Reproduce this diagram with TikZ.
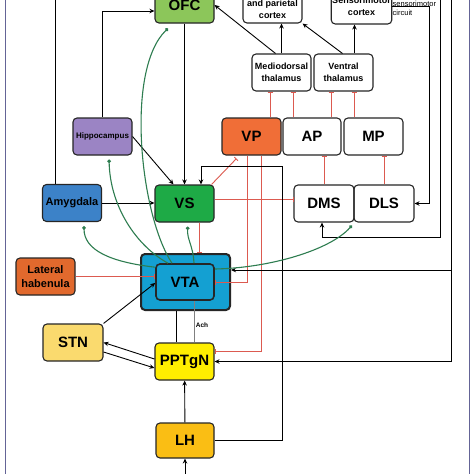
\documentclass[tikz,border=0pt]{standalone}
\usepackage{fontspec}
\setmainfont{Liberation Sans}
\usetikzlibrary{arrows.meta}

\definecolor{ofcgreen}{RGB}{140,198,90}
\definecolor{hipviolet}{RGB}{155,132,196}
\definecolor{vporange}{RGB}{240,110,55}
\definecolor{amyblue}{RGB}{60,130,200}
\definecolor{vsgreen}{RGB}{30,170,70}
\definecolor{lhborange}{RGB}{225,105,45}
\definecolor{vtablue}{RGB}{20,160,210}
\definecolor{stnyellow}{RGB}{250,218,110}
\definecolor{pptyellow}{RGB}{255,238,0}
\definecolor{lhgold}{RGB}{250,190,20}
\definecolor{inhred}{RGB}{220,90,80}
\definecolor{dagreen}{RGB}{46,125,80}
\definecolor{framecol}{RGB}{100,100,150}

\begin{document}
\begin{tikzpicture}[x=1pt,y=-1pt,
    box/.style={draw=black!85,line width=1.1pt,rounded corners=4pt,minimum width=59pt,minimum height=37pt,
      inner sep=1pt,align=center,font=\bfseries\fontsize{15}{16}\selectfont},
    small/.style={font=\bfseries\fontsize{9}{12}\selectfont},
    arr/.style={line width=0.9pt,-{Stealth[length=5pt,width=4.5pt]}},
    inh/.style={draw=inhred,line width=0.9pt,-{Bar[width=5pt]}},
    da/.style={draw=dagreen,line width=1.1pt,-{Circle[length=3.5pt]}}]
  \useasboundingbox (0,0) rectangle (474,474);
  \clip (0,0) rectangle (474,474);
  \fill[white] (0,0) rectangle (474,474);

  \node[box,fill=ofcgreen,minimum height=36pt] (ofc) at (184.5,5) {OFC};
  \node[box,small,minimum height=28pt] (ppc) at (272.5,9) {and parietal\\cortex};
  \node[box,small,minimum height=36pt] (smc) at (361.5,6) {Sensorimotor\\cortex};
  \node[font=\fontsize{7.5}{9}\selectfont,align=left,anchor=south west,inner sep=0.5pt] (smlabel) at (392,16) {sensorimotor\\circuit};
  \node[box,small] (md) at (281.5,72.5) {Mediodorsal\\thalamus};
  \node[box,small] (vt) at (343.5,72.5) {Ventral\\thalamus};
  \node[box,fill=hipviolet,font=\bfseries\fontsize{8}{9}\selectfont] (hip) at (102.5,136.5) {Hippocampus};
  \node[box,fill=vporange] (vp) at (251.5,136.5) {VP};
  \node[box,minimum width=58pt] (ap) at (312,136.5) {AP};
  \node[box] (mp) at (373.5,136.5) {MP};
  \node[box,fill=amyblue,font=\bfseries\fontsize{11}{12}\selectfont] (amy) at (72,203) {Amygdala};
  \node[box,fill=vsgreen] (vs) at (184.5,203.5) {VS};
  \node[box,minimum width=60pt] (dms) at (324,203.5) {DMS};
  \node[box,minimum width=60pt] (dls) at (384,203.5) {DLS};
  \node[box,fill=lhborange,font=\bfseries\fontsize{11}{14}\selectfont] (lhb) at (45.5,276.5) {Lateral\\habenula};
  \node[box,fill=vtablue,line width=2pt,minimum width=89pt,minimum height=56pt] (vtabox) at (185.5,282) {};
  \node[box,fill=vtablue,line width=1.6pt,minimum width=58pt,minimum height=36pt] (vta) at (185,282) {VTA};
  \node[box,fill=stnyellow,minimum width=60pt] (stn) at (73,342.5) {STN};
  \node[box,fill=pptyellow] (ppt) at (184.5,361.5) {PPTgN};
  \node[box,fill=lhgold,minimum width=58pt,minimum height=35pt] (lh) at (185,440.5) {LH};

  \coordinate (topamy) at (55,-5);
  \coordinate (top440) at (440,-5);
  \coordinate (top451) at (451,-5);
  \coordinate (bot) at (185,480);
  \coordinate (lhup) at (282,166);
  \coordinate (smcin) at (429,203.5);
  \coordinate (dmsin) at (322,237);
  \coordinate (r270) at (451,270);

  \draw[framecol,line width=1pt] (5,-5) -- (5,480);
  \draw[framecol,line width=1pt] (469,-5) -- (469,480);

  \draw[arr] (hip.north) |- ([yshift=-6pt]ofc.west);
  \draw[arr] (ofc) -- (vs);
  \draw[arr] ([xshift=-6pt]md.north) -- (ofc.east);
  \draw[arr] (md.north) -- (md.north |- ppc.south);
  \draw[arr] ([xshift=-1pt]vt.north) -- (ppc.south east);
  \draw[arr] ([xshift=11pt]vt.north) -- ([xshift=11pt]vt.north |- smc.south);
  \draw[line width=0.9pt] (amy.north -| topamy) -- (topamy);
  \draw[arr] (amy.east) -- (amy.east -| vs.west);
  \draw[arr] (hip.east) -- ([xshift=-11pt]vs.north);

  \foreach \x/\a/\b in {270/vp/md, 293/ap/md, 331/ap/vt, 354/mp/vt}
    \draw[inh] (\a.north -| \x,0) -- (\b.south -| \x,0);
  \draw[inh] (dms.north) -- (dms.north |- ap.south);
  \draw[inh] (dls.north) -- (dls.north |- mp.south);
  \draw[inh] ([xshift=-3pt]vs.north east) -- ([xshift=15pt,yshift=-3pt]vp.south west);
  \draw[inh] ([yshift=4pt]vs.east) -- ([yshift=4pt]dms.west);
  \draw[inh] (vs.south -| 199,0) -- (vtabox.north -| 199,0);
  \draw[inh] (vp.south -| 247,0) |- (vta.east);
  \draw[inh] (vp.south -| 261,0) |- ([yshift=10pt]ppt.east);
  \draw[inh] (lhb.east) -- (lhb.east -| vta.west);

  \draw[arr] (smc.east) -| (smcin) -- (dls.east);
  \draw[arr] (top440) |- (dmsin) -- (dmsin |- dms.south);
  \draw[arr] (top451) |- (ppt.east);
  \draw[arr] (r270) -- (vtabox.east |- r270);

  \draw[arr] (stn.north east) -- ([yshift=-1pt]vta.west);
  \draw[arr] ([yshift=2.5pt]ppt.west) -- (stn.east);
  \draw[arr] ([yshift=-9.5pt]stn.east) -- ([yshift=-6.5pt]ppt.west);
  \draw[line width=0.9pt] (ppt.north -| 176,0) -- (vtabox.south -| 176,0);
  \draw[gray,line width=0.8pt] (ppt.north -| 194,0) -- (vta.south -| 194,0)
    node[pos=0.42,right,inner sep=1.5pt,font=\bfseries\fontsize{6.5}{7}\selectfont,text=black] {Ach};
  \draw[arr] (lh) -- (ppt);
  \draw[arr] (bot) -- (lh.south);
  \draw[arr] (lh.east) -| (lhup) -| ([xshift=16.5pt]vs.north);

  \draw[da,shorten >=7pt] ([xshift=-13pt]vta.north) .. controls (140,215) and (125,70) .. (ofc.south -| 173,0);
  \draw[da,shorten >=4pt] ([xshift=-17pt]vta.north) .. controls (135,245) and (110,205) .. (hip.south -| 109,0);
  \draw[da,shorten >=4pt] ([yshift=-4pt]vta.north west) .. controls (110,262) and (84,250) .. (amy.south -| 84,0);
  \draw[da,shorten >=4pt] ([xshift=9pt]vta.north) .. controls (193,245) and (187,240) .. (vs.south -| 188,0);
  \draw[da,shorten >=4pt] ([yshift=13pt]vta.east) .. controls (270,268) and (330,250) .. (dms.south east);
\end{tikzpicture}
\end{document}
